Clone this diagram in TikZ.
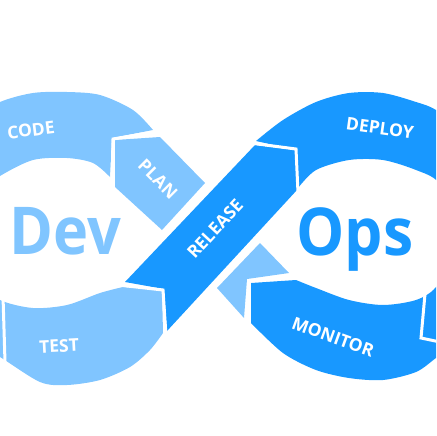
\documentclass[tikz,border=0pt]{standalone}
\usepackage{fontspec}
\setmainfont{Open Sans}
\definecolor{lb}{RGB}{128,197,255}
\definecolor{db}{RGB}{24,152,255}
\begin{document}
\begin{tikzpicture}[x=1pt,y=-1pt,
  lbl/.style={text=white,font=\bfseries\fontsize{17.5}{20}\selectfont,inner sep=0pt},
  big/.style={font=\bfseries\fontsize{66}{72}\selectfont,inner sep=0pt,anchor=base},
  sep/.style={draw=white,line width=3pt,line join=miter}]
\useasboundingbox (0,0) rectangle (436,436);
\clip (0,0) rectangle (436,436);
% left loop: CODE + left arc + TEST
\fill[lb] plot[smooth] coordinates {(153,130) (133,110) (100,95) (67,92) (33,93) (0,102) (-30,120) (-50,160) (-55,230) (-50,300) (-30,340) (0,357) (40,382) (67,385) (100,380) (130,367) (150,350) (163,333)}
  -- (162,290) -- plot[smooth] coordinates {(123,287) (100,293) (67,305) (33,308) (0,300) (-25,280) (-35,240) (-25,195) (0,176) (33,160) (67,158) (93,163) (110,177)}
  -- (112,138) -- cycle;
% right loop: DEPLOY + right arc + MONITOR
\fill[db] plot[smooth] coordinates {(256,141) (283,120) (316,102) (349,93) (383,93) (416,102) (436,110) (470,135) (490,180) (492,240) (480,300) (455,345) (436,358) (416,372) (383,380) (349,378) (316,370) (283,353) (251,323)}
  -- (251,283) -- plot[smooth] coordinates {(296,280) (316,288) (349,300) (383,305) (416,300) (436,287) (452,255) (452,215) (438,182) (416,170) (383,160) (349,160) (316,170) (298,188)}
  -- (296,150) -- cycle;
% release
\fill[db] (125,282) -- (164,289) -- (167,331) -- (297,190) -- (295,150) -- (255,145) -- cycle;
% plan (upper part and lower part)
\fill[lb] (115,140) -- (160,137) -- (205,183) -- (162,230) -- (115,187) -- cycle;
\fill[lb] (217,288) -- (260,243) -- (289,273) -- (247,279) -- (244,318) -- cycle;
% separators
\draw[sep] (160,131) -- (113,139) -- (112,184);
\draw[sep] (118,285) -- (163,290) -- (166,336);
\draw[sep] (250,143) -- (296,149) -- (298,193);
\draw[sep] (294,277) -- (249,281) -- (249,327);
\draw[sep] (3,296) -- (5,362);
\draw[sep] (425,294) -- (421,338) -- (440,342);
% labels
\node[lbl,rotate=7] (code) at (31,130) {CODE};
\node[lbl,rotate=-45] (plan) at (158,179) {PLAN};
\node[lbl,rotate=47] (release) at (215,229) {RELEASE};
\node[lbl,rotate=3] (test) at (59,346) {TEST};
\node[lbl,rotate=-8] (deploy) at (380,128) {DEPLOY};
\node[lbl,rotate=-20] (monitor) at (333,337) {MONITOR};
\node[big,text=lb] (dev) at (65,254) {\scalebox{0.9}[1]{Dev}};
\node[big,text=db] (ops) at (355,255) {\scalebox{0.92}[1]{Ops}};
\end{tikzpicture}
\end{document}
